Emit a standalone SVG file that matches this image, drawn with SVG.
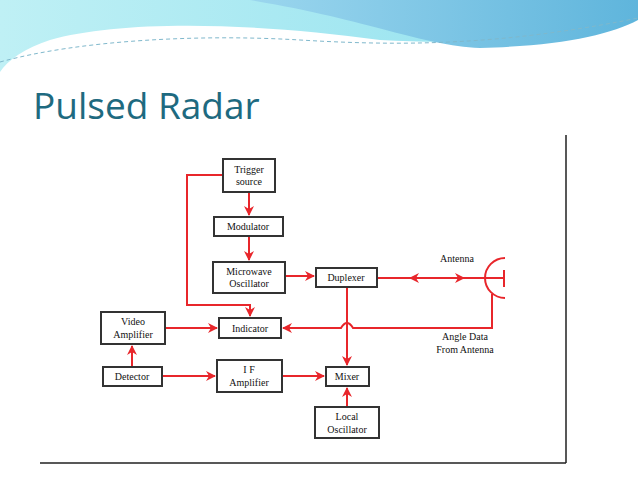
<svg xmlns="http://www.w3.org/2000/svg" width="638" height="479" viewBox="0 0 638 479">
<style>
.b{fill:#fff;stroke:#333;stroke-width:2}
.t{font-family:"Liberation Serif",serif;font-size:10px;text-anchor:middle;fill:#111}
.c{fill:none;stroke:#e8262b;stroke-width:2}
</style>
<defs>
<marker id="a" viewBox="0 0 10 10" refX="9" refY="5" markerWidth="5" markerHeight="5" orient="auto"><path d="M0,0 L10,5 L0,10 L3,5 z" fill="#e8262b"/></marker>
<linearGradient id="g1" x1="0" y1="0" x2="1" y2="0"><stop offset="0" stop-color="#bff0f5"/><stop offset="1" stop-color="#8ee0ee"/></linearGradient>
<linearGradient id="g2" x1="0" y1="0" x2="1" y2="0"><stop offset="0" stop-color="#9bd6ee"/><stop offset="1" stop-color="#5fb5dc"/></linearGradient>
</defs>
<rect width="638" height="479" fill="#fff"/>
<path d="M0,0 H638 V15 C560,40 470,45 380,40 C250,22 120,20 50,40 C25,48 8,60 0,72 Z" fill="url(#g1)"/>
<path d="M250,0 H638 V20 C610,35 560,46 480,48 C420,45 370,20 250,0 Z" fill="url(#g2)"/>
<path d="M0,62 C80,40 200,34 300,40 C400,46 500,46 638,18" fill="none" stroke="#7fb8cc" stroke-width="1" stroke-dasharray="4,3"/>
<text x="33" y="119" font-family="'Open Sans','Noto Sans',sans-serif" font-size="37" fill="#1e6a80">Pulsed Radar</text>
<rect x="40" y="135" width="526" height="328" fill="#fff"/>
<path d="M566,135 V463 M40,463 H566" stroke="#222" stroke-width="1.5" fill="none"/>
<g id="connectors" class="c">
<path d="M223,175 H187 V305 H250 V316" marker-end="url(#a)"/>
<path d="M249,192 V215" marker-end="url(#a)"/>
<path d="M249,236 V260" marker-end="url(#a)"/>
<path d="M285,276 H314" marker-end="url(#a)"/>
<path d="M377,278 H504"/>
<path d="M440,278 H410" marker-end="url(#a)"/>
<path d="M440,278 H464" marker-end="url(#a)"/>
<path d="M347,287 V365" marker-end="url(#a)"/>
<path d="M492,294 V328 H353 Q347,318 341,328 H283" marker-end="url(#a)"/>
<path d="M165,328 H217" marker-end="url(#a)"/>
<path d="M132,366 V346" marker-end="url(#a)"/>
<path d="M162,376 H215" marker-end="url(#a)"/>
<path d="M282,376 H324" marker-end="url(#a)"/>
<path d="M347,407 V388" marker-end="url(#a)"/>
<path d="M505,258 A20,20 0 0 0 505,298"/>
<path d="M504,270 V287"/>
</g>
<g id="trigger"><rect class="b" x="223" y="159" width="52" height="33"/><text class="t" x="249" y="173">Trigger</text><text class="t" x="249" y="185">source</text></g>
<g id="modulator"><rect class="b" x="214" y="217" width="69" height="19"/><text class="t" x="248" y="230">Modulator</text></g>
<g id="microwave"><rect class="b" x="213" y="262" width="72" height="31"/><text class="t" x="249" y="275">Microwave</text><text class="t" x="249" y="287">Oscillator</text></g>
<g id="duplexer"><rect class="b" x="316" y="268" width="61" height="19"/><text class="t" x="346" y="281">Duplexer</text></g>
<g id="indicator"><rect class="b" x="219" y="318" width="62" height="20"/><text class="t" x="250" y="332">Indicator</text></g>
<g id="video"><rect class="b" x="101" y="312" width="64" height="32"/><text class="t" x="133" y="325">Video</text><text class="t" x="133" y="338">Amplifier</text></g>
<g id="detector"><rect class="b" x="103" y="367" width="59" height="19"/><text class="t" x="132" y="380">Detector</text></g>
<g id="if"><rect class="b" x="217" y="360" width="65" height="32"/><text class="t" x="249" y="373">I F</text><text class="t" x="249" y="386">Amplifier</text></g>
<g id="mixer"><rect class="b" x="326" y="367" width="43" height="19"/><text class="t" x="347" y="380">Mixer</text></g>
<g id="local"><rect class="b" x="315" y="407" width="64" height="31"/><text class="t" x="347" y="420">Local</text><text class="t" x="347" y="433">Oscillator</text></g>
<g id="labels"><text class="t" x="457" y="262">Antenna</text><text class="t" x="465" y="340">Angle Data</text><text class="t" x="465" y="353">From Antenna</text></g>
</svg>
